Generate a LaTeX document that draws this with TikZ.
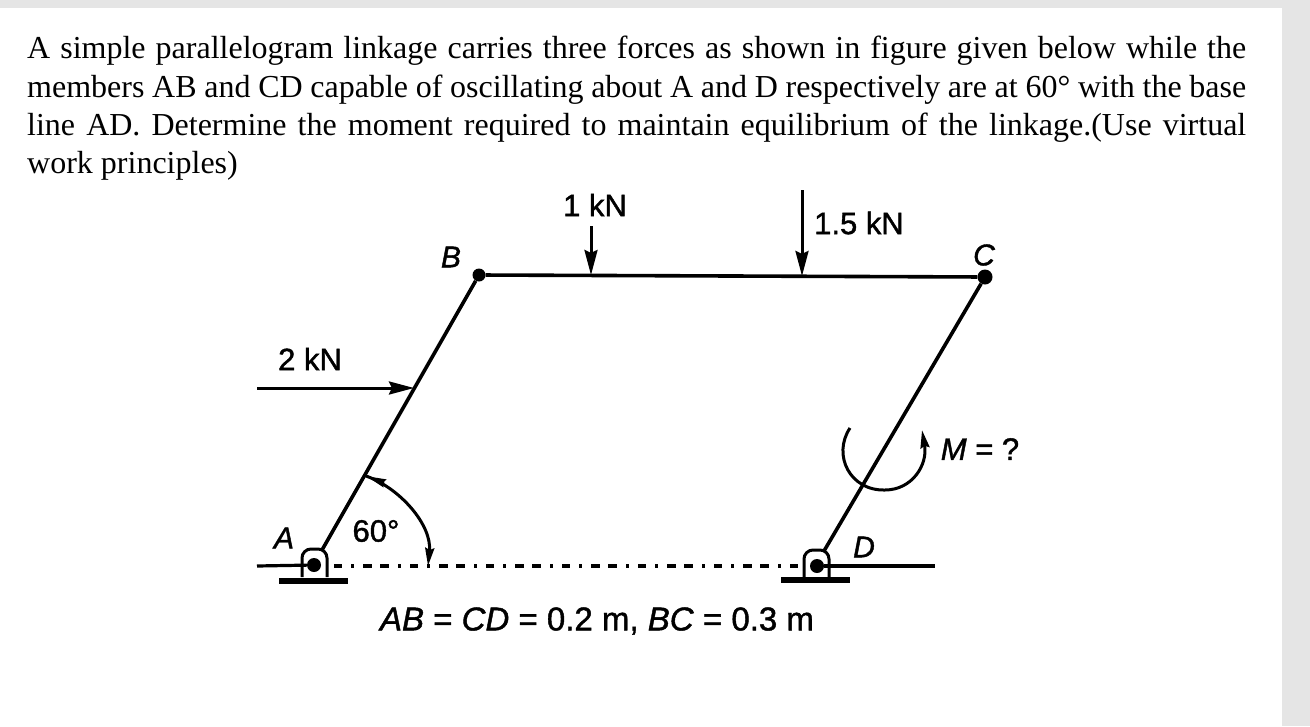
\documentclass[tikz,border=0pt]{standalone}
\usepackage{fontspec}
\setmainfont{Liberation Serif}
\setsansfont{Liberation Sans}
\newfontfamily\labfont[FakeBold=1.3]{Liberation Sans}
\usetikzlibrary{arrows.meta,positioning}

\tikzset{
  member/.style={line width=3.6pt},
  force/.style={line width=3pt, -{Stealth[length=25pt,width=13pt,inset=3pt]}},
  swing/.style={line width=3pt},
  swingtip/.style={-{Stealth[length=18pt,width=9pt,inset=2pt]}},
  baseline/.style={line width=3.2pt},
  datum/.style={line width=3.4pt, dash pattern=on 8pt off 9pt on 3pt off 9pt on 9pt off 8pt on 9pt off 9pt on 3pt off 9pt},
  ground/.style={line width=5.5pt},
  hinge/.style={line width=3pt, rounded corners=9pt},
  pin/.style={circle, fill=black, inner sep=0pt, minimum size=#1},
  lab/.style={inner sep=0pt, font=\labfont\fontsize{31}{34}\selectfont},
  ilab/.style={inner sep=0pt, font=\labfont\itshape\fontsize{30}{34}\selectfont}
}

\begin{document}
\begin{tikzpicture}[x=1pt, y=-1pt]
\useasboundingbox (0,0) rectangle (1310,726);
\fill[black!10] (0,0) rectangle (1310,726);
\fill[white] (0,8) rectangle (1282,726);

\node[anchor=north west, inner sep=0pt, text width=1219pt, align=justify, font=\fontsize{32}{38.4}\selectfont] (question) at (27,36)
  {A simple parallelogram linkage carries three forces as shown in figure given below while the\linebreak
  members AB and CD capable of oscillating about A and D respectively are at 60° with the base\linebreak
  line AD. Determine the moment required to maintain equilibrium of the linkage.(Use virtual\linebreak
  work principles)};

% joints
\node[pin=13pt] (B) at (479,275) {};
\node[pin=15pt] (C) at (985,277) {};
\node[pin=14pt] (A) at (314,565) {};
\node[pin=14pt] (D) at (817,566) {};

% points on the members and the base line
\coordinate (Atop) at (322,550);
\coordinate (Dtop) at (824,551);
\coordinate (baseL) at (257,566);
\coordinate (baseR) at (935,566);
\coordinate (datumL) at (334,566);
\coordinate (datumR) at (803,566);
\coordinate (F1s) at (591,226);
\coordinate (F1e) at (591,275);
\coordinate (F2s) at (802,190);
\coordinate (F2e) at (802,276);
\coordinate (F3s) at (257,388);
\coordinate (F3e) at (414,388);
\coordinate (arcS) at (366,476);
\coordinate (arcE) at (428,566);
\coordinate (momS) at (850,428);
\coordinate (momM) at (885,490);
\coordinate (momE) at (922,430);

\draw[member] (B) -- (Atop);
\draw[member] (C) -- (Dtop);
\draw[member] (B) -- (C);
\draw[baseline] (baseL) -- (A);
\draw[baseline] (D) -- (baseR);
\draw[datum] (datumL) -- (datumR);

% hinges
\draw[hinge] (302,577) -- (302,549) -- (327,549) -- (327,577);
\draw[hinge] (804,578) -- (804,550) -- (829,550) -- (829,578);
\draw[ground] (279,581) -- (348,581);
\draw[ground] (781,580) -- (850,580);

% loads
\draw[force] (F1s) -- (F1e);
\draw[force] (F2s) -- (F2e);
\draw[force] (F3s) -- (F3e);

% angle and moment
\draw[swing, swingtip] (arcS) .. controls (400,488) and (432,525) .. (arcE);
\draw[swing, {Stealth[length=20pt,width=8pt,inset=2pt]}-] (arcS) -- ++(18,7);
\draw[swing, swingtip] (momS) .. controls (832,455) and (850,491) .. (momM) .. controls (912,490) and (928,465) .. (momE);

% labels
\node[lab] (l1) at (595,205) {1 kN};
\node[lab] (l15) at (859,223) {1.5 kN};
\node[lab] (l2) at (310,359) {2 kN};
\node[lab] (l60) at (376,531) {60°};
\node[ilab] (lA) at (284,538) {A};
\node[ilab] (lB) at (451,257) {B};
\node[ilab] (lC) at (984,255) {C};
\node[ilab] (lD) at (864,547) {D};
\node[lab] (lM) at (980,449) {\textit{M} = ?};
\node[lab, font=\labfont\fontsize{33}{36}\selectfont] (ldim) at (597,621) {\textit{AB} = \textit{CD} = 0.2 m, \textit{BC} = 0.3 m};
\end{tikzpicture}
\end{document}
